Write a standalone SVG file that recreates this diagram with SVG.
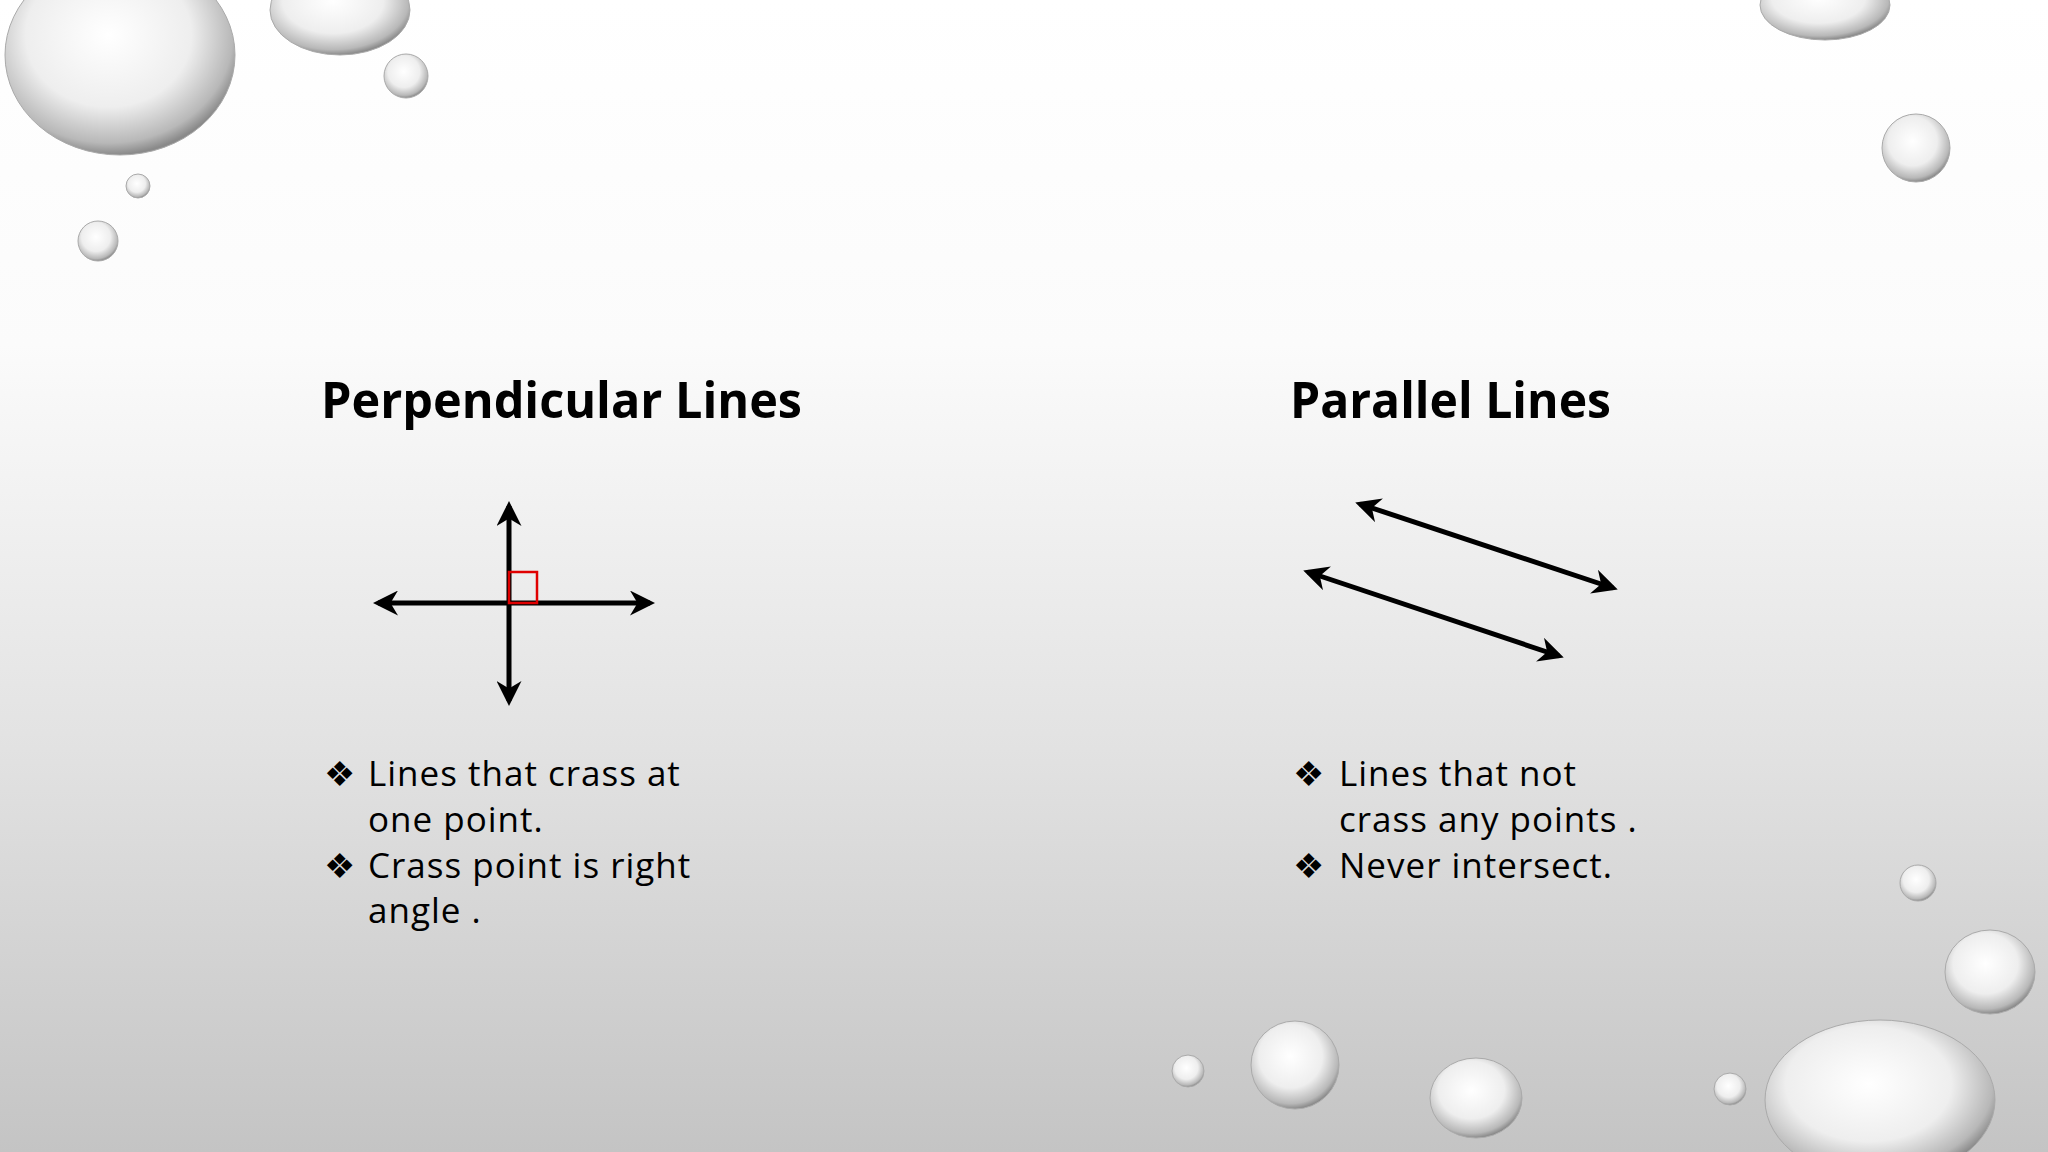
<svg xmlns="http://www.w3.org/2000/svg" width="2048" height="1152" viewBox="0 0 2048 1152">
<defs>
<linearGradient id="bg" x1="0" y1="0" x2="0" y2="1">
<stop offset="0" stop-color="#ffffff"/><stop offset="0.3" stop-color="#fbfbfb"/><stop offset="0.65" stop-color="#e2e2e2"/><stop offset="1" stop-color="#c4c4c4"/>
</linearGradient>
<radialGradient id="drop" cx="0.45" cy="0.4" r="0.6">
<stop offset="0" stop-color="#ffffff"/><stop offset="0.6" stop-color="#eeeeee"/><stop offset="0.9" stop-color="#b8b8b8"/><stop offset="1" stop-color="#8a8a8a"/>
</radialGradient>
<marker id="ah" viewBox="0 0 10 10" refX="8" refY="5" markerWidth="5" markerHeight="5" orient="auto-start-reverse" markerUnits="strokeWidth">
<path d="M0,0 L10,5 L0,10 L3,5 Z" fill="#000"/>
</marker>
<style>
.t{font-family:"Open Sans","Liberation Sans",sans-serif;font-weight:bold;font-size:50px;fill:#000}
.b{font-family:"Open Sans","Liberation Sans",sans-serif;font-size:35px;fill:#000;letter-spacing:1px}
.ln{stroke:#000;stroke-width:5;fill:none;marker-start:url(#ah);marker-end:url(#ah)}
.d{fill:url(#drop);stroke:#aaa;stroke-width:1}
</style>
</defs>
<rect width="2048" height="1152" fill="url(#bg)"/>
<g id="drops">
<ellipse class="d" cx="120" cy="55" rx="115" ry="100"/>
<ellipse class="d" cx="340" cy="10" rx="70" ry="45"/>
<circle class="d" cx="406" cy="76" r="22"/>
<circle class="d" cx="138" cy="186" r="12"/>
<circle class="d" cx="98" cy="241" r="20"/>
<ellipse class="d" cx="1825" cy="5" rx="65" ry="35"/>
<circle class="d" cx="1916" cy="148" r="34"/>
<circle class="d" cx="1918" cy="883" r="18"/>
<ellipse class="d" cx="1990" cy="972" rx="45" ry="42"/>
<ellipse class="d" cx="1880" cy="1100" rx="115" ry="80"/>
<circle class="d" cx="1730" cy="1089" r="16"/>
<circle class="d" cx="1295" cy="1065" r="44"/>
<ellipse class="d" cx="1476" cy="1098" rx="46" ry="40"/>
<circle class="d" cx="1188" cy="1071" r="16"/>
</g>
<g id="perpendicular">
<text class="t" x="321" y="418" textLength="481" lengthAdjust="spacingAndGlyphs">Perpendicular Lines</text>
<line class="ln" x1="378" y1="603" x2="650" y2="603"/>
<line class="ln" x1="509" y1="506" x2="509" y2="701"/>
<rect x="509" y="572" width="28" height="31" fill="none" stroke="#e00000" stroke-width="2.5"/>
<text class="b" x="324" y="786">❖</text><text class="b" x="368" y="786">Lines that crass at</text>
<text class="b" x="368" y="832">one point.</text>
<text class="b" x="324" y="878">❖</text><text class="b" x="368" y="878">Crass point is right</text>
<text class="b" x="368" y="923">angle .</text>
</g>
<g id="parallel">
<text class="t" x="1290" y="418" textLength="321" lengthAdjust="spacingAndGlyphs">Parallel Lines</text>
<line class="ln" x1="1360" y1="504" x2="1613" y2="588"/>
<line class="ln" x1="1308" y1="572" x2="1559" y2="656"/>
<text class="b" x="1293" y="786">❖</text><text class="b" x="1339" y="786">Lines that not</text>
<text class="b" x="1339" y="832">crass any points .</text>
<text class="b" x="1293" y="878">❖</text><text class="b" x="1339" y="878">Never intersect.</text>
</g>
</svg>
